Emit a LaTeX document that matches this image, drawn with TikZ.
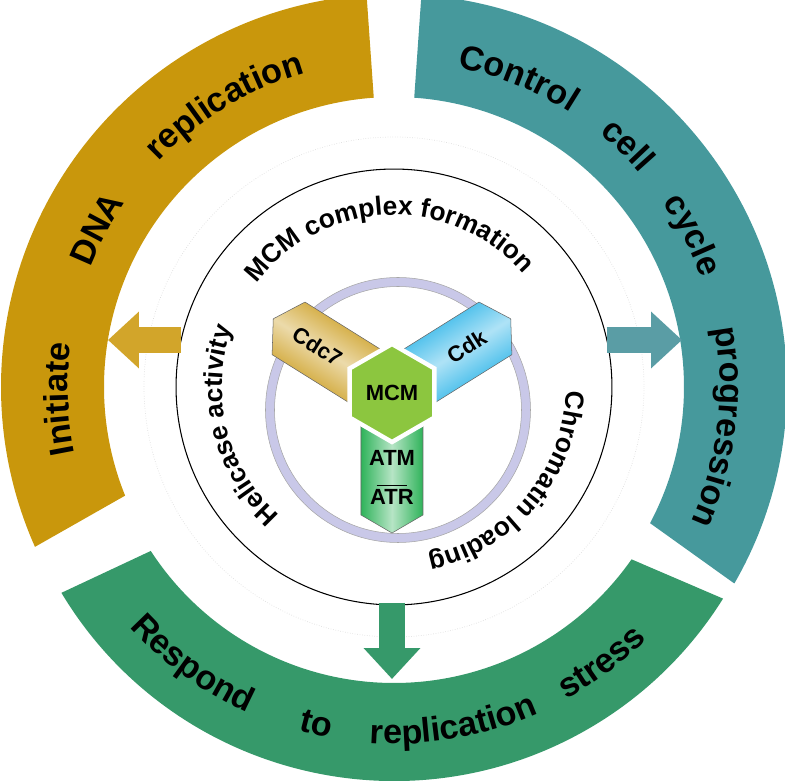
\documentclass[tikz,border=0pt]{standalone}
\usepackage{fontspec}
\setmainfont{Liberation Sans}
\usetikzlibrary{arrows.meta, decorations.text}

\definecolor{cgold}{HTML}{C9970C}
\definecolor{cteal}{HTML}{46999C}
\definecolor{cgreen}{HTML}{36996A}
\definecolor{cagold}{HTML}{D2A52A}
\definecolor{cateal}{HTML}{5A9DA5}
\definecolor{clav}{HTML}{C9C8E8}
\definecolor{chex}{HTML}{8CC63F}
\definecolor{ccdc}{HTML}{C8960E}
\definecolor{ccdk}{HTML}{1AAEE6}
\definecolor{catm}{HTML}{2FB35A}

\newcommand\ftOuter{\fontsize{19.5}{19.5}\selectfont\bfseries}
\newcommand\ftInner{\fontsize{15}{15}\selectfont\bfseries}
\newcommand\ftShape{\fontsize{12.5}{12.5}\selectfont\bfseries}

% word on a clockwise arc (tops outward): radius, centre angle, half span, font, text
\newcommand\cwword[5]{%
  \path[decorate, decoration={text along path, text align=center,
    text={|#4|#5}}] (#2+#3:#1) arc[start angle=#2+#3, end angle=#2-#3, radius=#1];}
% word on a counter-clockwise arc (tops inward)
\newcommand\ccwword[5]{%
  \path[decorate, decoration={text along path, text align=center,
    text={|#4|#5}}] (#2-#3:#1) arc[start angle=#2-#3, end angle=#2+#3, radius=#1];}

\tikzset{
  bigarrow/.style={line width=0.52cm, -{Triangle[length=0.62cm, width=1.1cm]}},
  arm/.style={draw=black!60, line width=0.3pt},
}

\begin{document}
\begin{tikzpicture}[x=0.02cm, y=0.02cm]
\useasboundingbox (-394,-394) rectangle (391,387);

% outer bands
\fill[cgold] (94:393) arc[start angle=94, end angle=204, radius=393]
  -- (202:290) arc[start angle=202, end angle=94, radius=290] -- cycle;
\fill[cteal] (86:393) arc[start angle=86, end angle=-30, radius=393]
  -- (-28:290) arc[start angle=-28, end angle=86, radius=290] -- cycle;
\begin{scope}[shift={(0,-6)}]
\fill[cgreen] (211:388) arc[start angle=211, end angle=328, radius=388]
  -- (325:290) arc[start angle=325, end angle=213, radius=290] -- cycle;
\end{scope}

% outer texts
\cwword{326}{182}{40}{\ftOuter}{Initiate}
\cwword{326}{152}{25}{\ftOuter}{DNA}
\cwword{326}{121}{45}{\ftOuter}{replication}
\cwword{326}{68}{35}{\ftOuter}{Control}
\cwword{326}{46}{20}{\ftOuter}{cell}
\cwword{326}{27}{25}{\ftOuter}{cycle}
\cwword{326}{-7}{50}{\ftOuter}{progression}
\ccwword{357}{234}{30}{\ftOuter}{Respond}
\ccwword{357}{257}{15}{\ftOuter}{to}
\ccwword{357}{280}{40}{\ftOuter}{replication}
\ccwword{357}{307}{25}{\ftOuter}{stress}

% circles
\draw[gray!25, densely dotted] (0,0) circle[radius=250];
\node[circle, draw=black, line width=0.6pt, fill=white, minimum size=8.72cm, inner sep=0pt] (core) at (0,0) {};
\coordinate (ringc) at (4,-23);
\draw[clav, line width=0.18cm] (ringc) circle[radius=128];
\draw[gray!70, line width=0.3pt] (ringc) circle[radius=132.5];
\draw[gray!70, line width=0.3pt] (ringc) circle[radius=123.5];

% arrows from the core to the bands
\coordinate (gA) at (-213,47);  \coordinate (gB) at (-286,47);
\coordinate (tA) at (213,47);   \coordinate (tB) at (288,47);
\coordinate (rA) at (-2,-216);  \coordinate (rB) at (-2,-292);
\draw[bigarrow, cagold] (gA) -- (gB);
\draw[bigarrow, cateal] (tA) -- (tB);
\draw[bigarrow, cgreen] (rA) -- (rB);

% inner texts
\cwword{172}{92}{80}{\ftInner}{MCM complex formation}
\cwword{172}{194}{60}{\ftInner}{Helicase activity}
\cwword{172}{-40}{60}{\ftInner}{Chromatin loading}

% arms around MCM
\coordinate (mc) at (-2,-6);
\foreach \ang/\col/\nm in {148/ccdc/cdc, 32/ccdk/cdk, 270/catm/atm} {
  \begin{scope}[shift={(mc)}, rotate=\ang]
    \path[arm, left color=\col, right color=\col, middle color=\col!35!white,
      shading angle=\ang]
      (30,-31) -- (122,-31) -- (140,0) -- (122,31) -- (30,31) -- cycle;
    \coordinate (\nm) at (88,0);
  \end{scope}
}
\node[rotate=-32, font=\ftShape] (tcdc) at (cdc) {Cdc7};
\node[rotate=32, font=\ftShape] (tcdk) at (cdk) {Cdk};
\node[font=\ftShape, align=center, inner sep=0pt] (tatm) at ([yshift=2]atm)
  {ATM\\[-1pt]\rule{0.62cm}{0.6pt}\\[-2pt]ATR};

% MCM hexagon
\path[fill=chex, draw=white, line width=2.5pt]
  (mc) ++(90:49) -- ++(210:49) -- ++(270:49) -- ++(330:49)
  -- ++(30:49) -- ++(90:49) -- cycle;
\node[font=\ftShape] (mcm) at (mc) {MCM};
\end{tikzpicture}
\end{document}
